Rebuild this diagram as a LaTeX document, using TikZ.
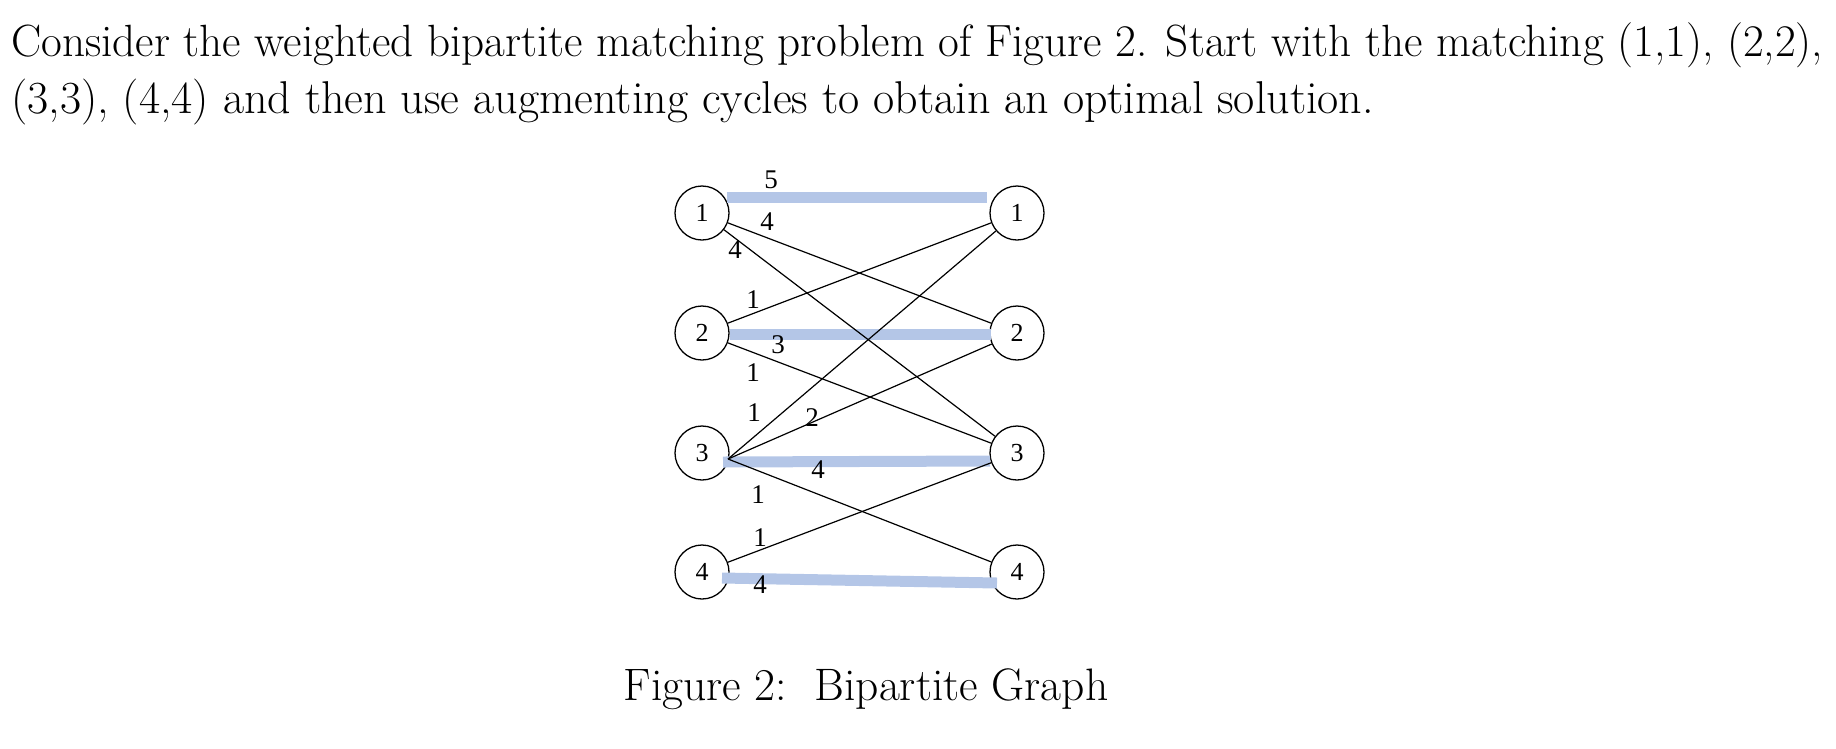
\documentclass[tikz,border=0pt]{standalone}
\usepackage{fontspec}
\newfontfamily\tms{Liberation Serif}
\begin{document}
\begin{tikzpicture}[x=1pt,y=-1pt,
 vtx/.style={circle,draw,line width=1.3pt,minimum size=54pt,inner sep=0pt,font=\tms\fontsize{26}{26}\selectfont},
 wl/.style={font=\tms\fontsize{27}{27}\selectfont,inner sep=0pt},
 match/.style={line width=11pt,color={rgb,255:red,180;green,198;blue,231}},
 ed/.style={line width=1.2pt}]
\useasboundingbox (0,0) rectangle (1836,748);
\node[anchor=base west,inner sep=0pt] (l1) at (11,56) {\resizebox{1812pt}{!}{\fontsize{46}{55}\selectfont Consider the weighted bipartite matching problem of Figure 2. Start with the matching (1,1), (2,2),}};
\node[anchor=base west,inner sep=0pt] (l2) at (11,113) {\fontsize{46}{55}\selectfont (3,3), (4,4) and then use augmenting cycles to obtain an optimal solution.};
\node[anchor=base,inner sep=0pt] (cap) at (866,700) {\fontsize{45.5}{55}\selectfont Figure 2:\ \ Bipartite Graph};
\foreach \i/\y in {1/213,2/333,3/453,4/572}{
 \node[vtx] (L\i) at (702,\y) {\i};
 \node[vtx] (R\i) at (1017,\y) {\i};
}
\coordinate (p3) at (728,459);
\coordinate (m1a) at (727,197); \coordinate (m1b) at (987,197);
\coordinate (m2a) at (730,334); \coordinate (m2b) at (991,334);
\coordinate (m3a) at (723,462); \coordinate (m3b) at (990,461);
\coordinate (m4a) at (722,578); \coordinate (m4b) at (997,583);
\draw[match] (m1a)--(m1b);
\draw[match] (m2a)--(m2b);
\draw[match] (m3a)--(m3b);
\draw[match] (m4a)--(m4b);
\draw[ed] (L1)--(R2);
\draw[ed] (L1)--(R3);
\draw[ed] (L2)--(R1);
\draw[ed] (L2)--(R3);
\draw[ed] (p3)--(R1);
\draw[ed] (p3)--(R2);
\draw[ed] (p3)--(R4);
\draw[ed] (L4)--(R3);
\node[wl] (w1) at (771,180) {5};
\node[wl] (w2) at (767,222) {4};
\node[wl] (w3) at (735,250) {4};
\node[wl] (w4) at (753,300) {1};
\node[wl] (w5) at (778,345) {3};
\node[wl] (w6) at (753,373) {1};
\node[wl] (w7) at (754,413) {1};
\node[wl] (w8) at (812,418) {2};
\node[wl] (w9) at (818,470) {4};
\node[wl] (w10) at (758,495) {1};
\node[wl] (w11) at (760,538) {1};
\node[wl] (w12) at (760,585) {4};
\end{tikzpicture}
\end{document}
